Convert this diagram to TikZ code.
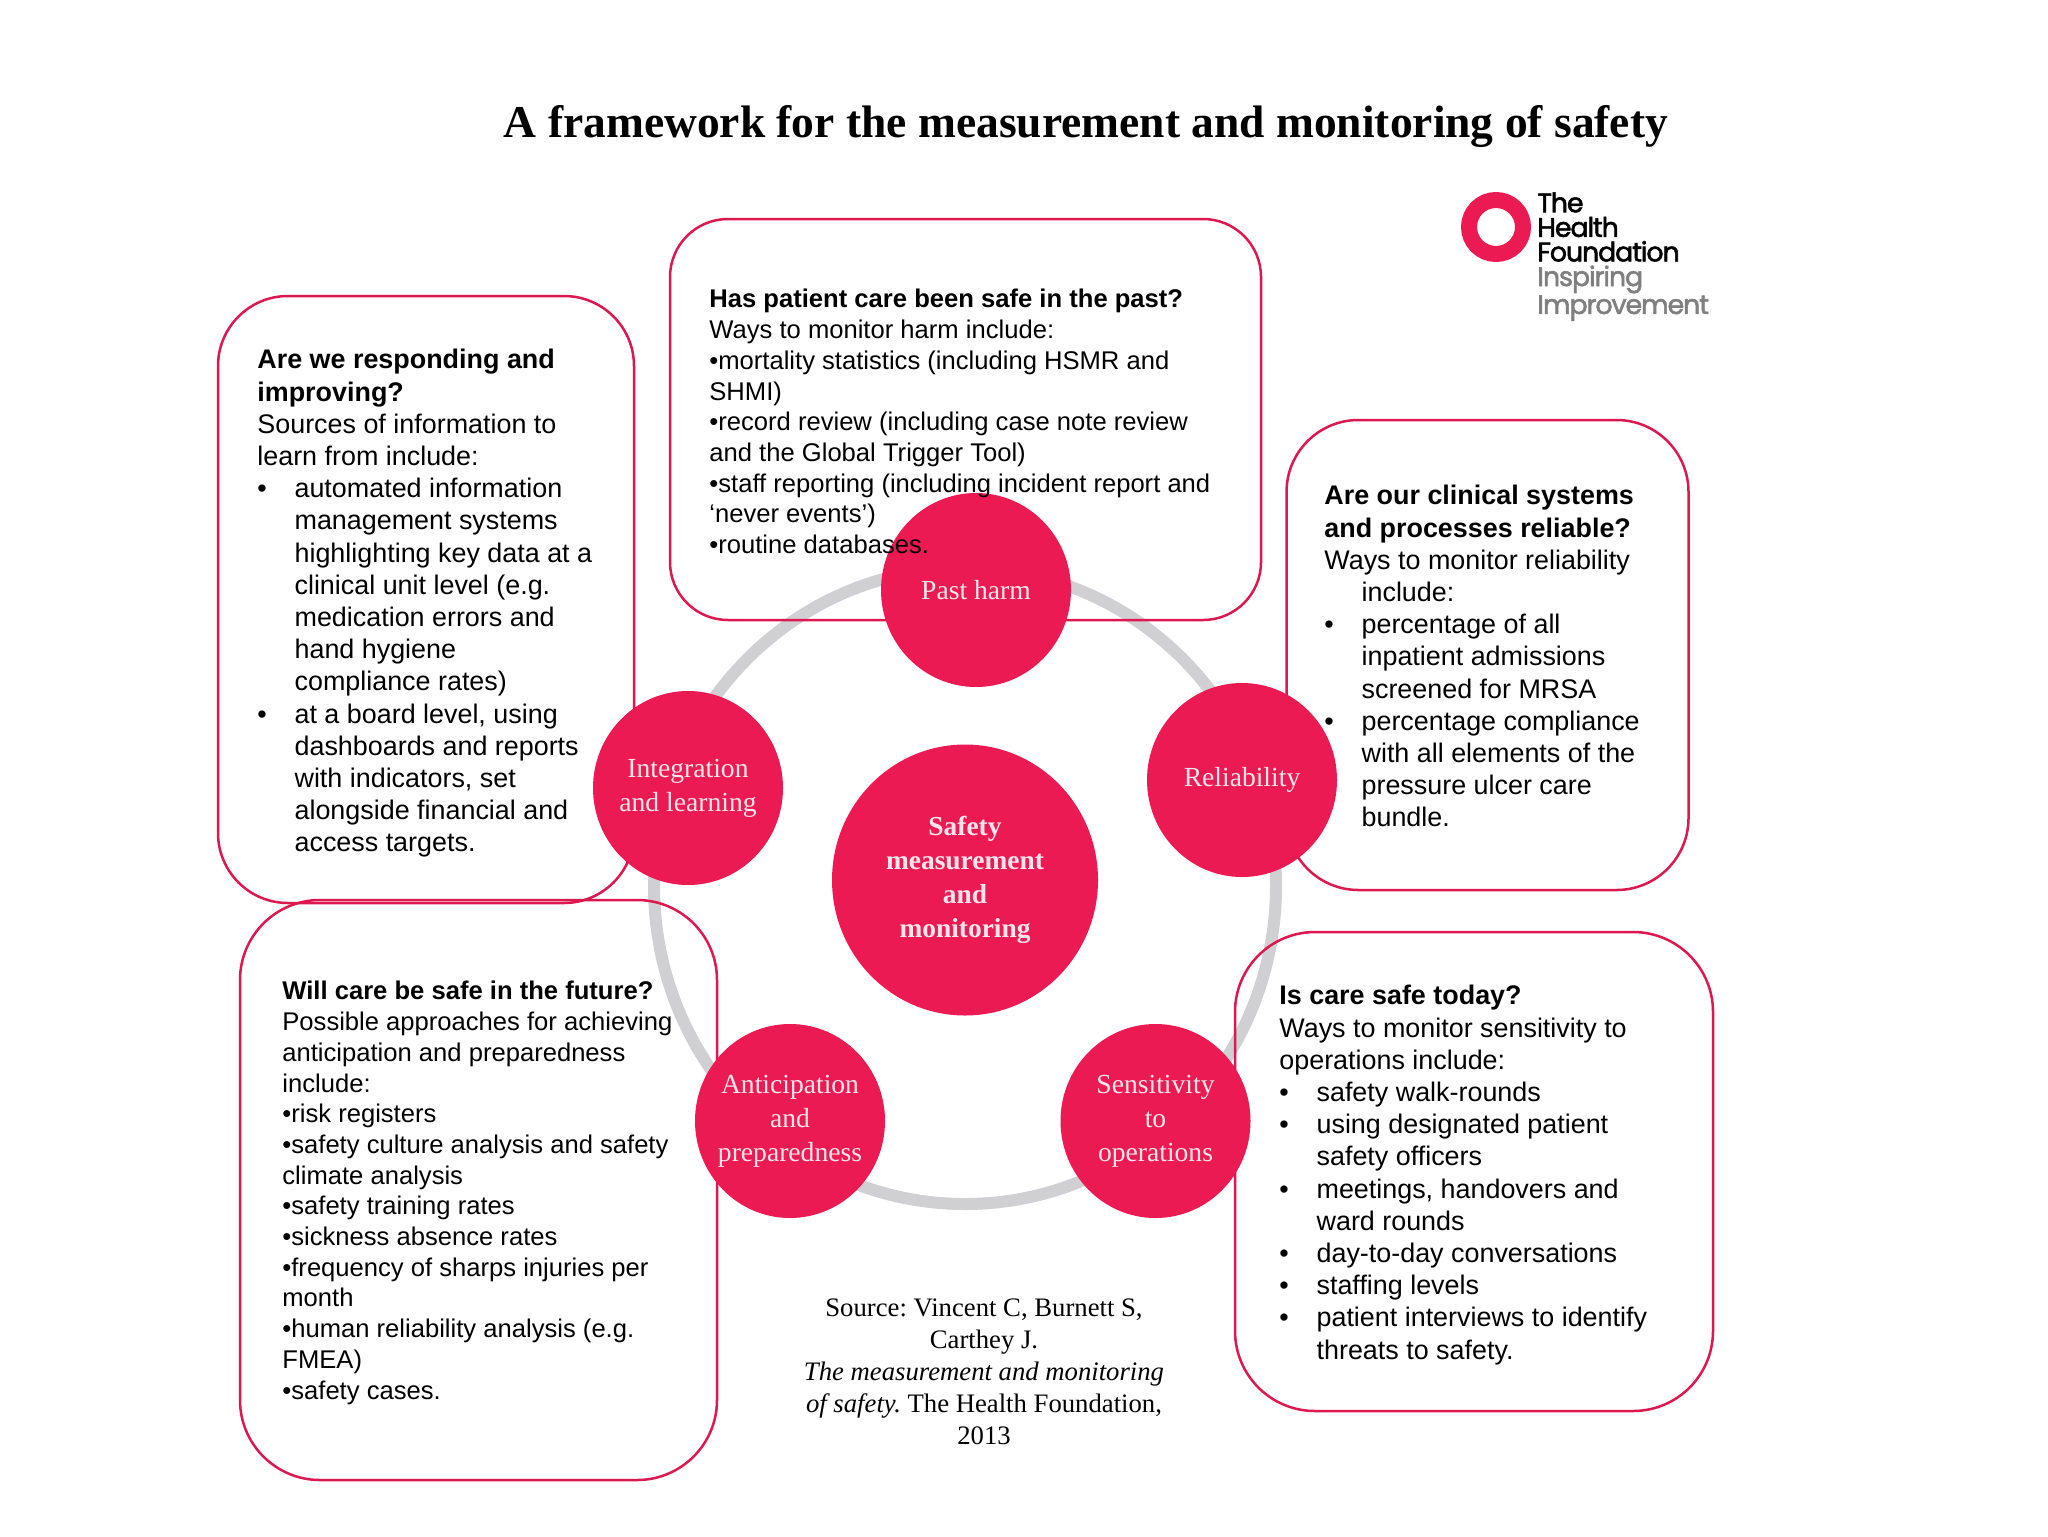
\documentclass[tikz,border=0pt]{standalone}
\usepackage{fontspec}
\usetikzlibrary{shapes.geometric}
\setmainfont{Liberation Sans}
\newfontfamily\serifface{Liberation Serif}
\newfontfamily\logoface[LetterSpace=-4,FakeBold=2]{Poppins}
\definecolor{thfred}{HTML}{EC1A52}
\definecolor{boxline}{HTML}{DC1850}
\definecolor{ringgrey}{HTML}{D0D0D3}
\definecolor{labelpink}{HTML}{FCE6EC}
\definecolor{logogrey}{HTML}{7F7F7F}
\frenchspacing
\newcommand{\bp}[1]{\makebox[18.6pt][l]{•}#1}
\newcommand{\cn}[1]{\hspace*{18.6pt}#1}
\tikzset{
  infobox/.style={draw=boxline,line width=1.25pt,fill=none,rectangle,inner sep=0pt},
  petal/.style={ellipse,fill=thfred,minimum width=95pt,minimum height=97pt,inner sep=-14pt,text=labelpink,align=center,
    font=\serifface\fontsize{13.8}{17}\selectfont},
  hub/.style={ellipse,fill=thfred,minimum width=133pt,minimum height=135.5pt,inner sep=0pt,text=labelpink,align=center,
    font=\serifface\bfseries\fontsize{13.7}{17}\selectfont},
  bigtext/.style={anchor=north west,inner sep=0pt,align=left,text=black,font=\fontsize{13.45}{16.1}\selectfont},
  smalltext/.style={anchor=north west,inner sep=0pt,align=left,text=black,font=\fontsize{12.8}{15.35}\selectfont},
}
\begin{document}
\begin{tikzpicture}[x=0.5pt,y=-0.5pt]
\useasboundingbox (0,0) rectangle (2048,1536);
% ring
\node[ellipse,draw=ringgrey,line width=6pt,minimum width=311pt,minimum height=318pt,inner sep=0pt] (ring) at (965,886) {};
% boxes
\node[infobox,minimum width=295.5pt,minimum height=200.5pt,rounded corners=29pt] (bpast) at (965.5,419.5) {};
\node[infobox,minimum width=208pt,minimum height=303.5pt,rounded corners=35pt] (bresp) at (426,599.5) {};
\node[infobox,minimum width=201pt,minimum height=235pt,rounded corners=36pt] (brel) at (1487.5,655) {};
\node[infobox,minimum width=238.5pt,minimum height=290pt,rounded corners=40pt] (bfut) at (478.5,1190) {};
\node[infobox,minimum width=239pt,minimum height=239.5pt,rounded corners=40pt] (btod) at (1474,1171.5) {};
% circles
\node[hub] (hub) at (965,880) {Safety\\measurement\\and\\monitoring};
\node[petal] (past) at (976,590) {Past harm};
\node[petal] (rel) at (1242,780) {Reliability};
\node[petal] (sens) at (1155.5,1121) {Sensitivity\\to\\operations};
\node[petal] (anti) at (790,1121) {Anticipation\\and\\preparedness};
\node[petal] (integ) at (688,788) {Integration\\and learning};
% title
\node[inner sep=0pt,font=\serifface\bfseries\fontsize{22.75}{27}\selectfont] (title) at (1086,127) {A framework for the measurement and monitoring of safety};
% logo
\node[circle,draw=thfred,line width=8pt,minimum size=27pt,inner sep=0pt] (logoring) at (1496,227) {};
\node[anchor=north west,inner sep=0pt,align=left,font=\logoface\fontsize{13.4}{12.3}\selectfont] (logotext) at (1537,192)
 {The\\Health\\Foundation\\\textcolor{logogrey}{Inspiring}\\\textcolor{logogrey}{Improvement}};
% texts
\node[smalltext] (tpast) at (709,289) {\textbf{Has patient care been safe in the past?}\\
Ways to monitor harm include:\\
•mortality statistics (including HSMR and\\
SHMI)\\
•record review (including case note review\\
and the Global Trigger Tool)\\
•staff reporting (including incident report and\\
‘never events’)\\
•routine databases.};
\node[bigtext] (tresp) at (257,349) {\textbf{Are we responding and}\\
\textbf{improving?}\\
Sources of information to\\
learn from include:\\
\bp{automated information}\\
\cn{management systems}\\
\cn{highlighting key data at a}\\
\cn{clinical unit level (e.g.}\\
\cn{medication errors and}\\
\cn{hand hygiene}\\
\cn{compliance rates)}\\
\bp{at a board level, using}\\
\cn{dashboards and reports}\\
\cn{with indicators, set}\\
\cn{alongside financial and}\\
\cn{access targets.}};
\node[bigtext] (trel) at (1324,485) {\textbf{Are our clinical systems}\\
\textbf{and processes reliable?}\\
Ways to monitor reliability\\
\cn{include:}\\
\bp{percentage of all}\\
\cn{inpatient admissions}\\
\cn{screened for MRSA}\\
\bp{percentage compliance}\\
\cn{with all elements of the}\\
\cn{pressure ulcer care}\\
\cn{bundle.}};
\node[smalltext] (tfut) at (282,981) {\textbf{Will care be safe in the future?}\\
Possible approaches for achieving\\
anticipation and preparedness\\
include:\\
•risk registers\\
•safety culture analysis and safety\\
climate analysis\\
•safety training rates\\
•sickness absence rates\\
•frequency of sharps injuries per\\
month\\
•human reliability analysis (e.g.\\
FMEA)\\
•safety cases.};
\node[bigtext] (ttod) at (1279,985) {\textbf{Is care safe today?}\\
Ways to monitor sensitivity to\\
operations include:\\
\bp{safety walk-rounds}\\
\bp{using designated patient}\\
\cn{safety officers}\\
\bp{meetings, handovers and}\\
\cn{ward rounds}\\
\bp{day-to-day conversations}\\
\bp{staffing levels}\\
\bp{patient interviews to identify}\\
\cn{threats to safety.}};
\node[anchor=north,inner sep=0pt,align=center,font=\serifface\fontsize{13.35}{16}\selectfont] (source) at (984,1298.5) {Source: Vincent C, Burnett S,\\
Carthey J.\\
\textit{The measurement and monitoring}\\
\textit{of safety.} The Health Foundation,\\
2013};
\end{tikzpicture}
\end{document}
